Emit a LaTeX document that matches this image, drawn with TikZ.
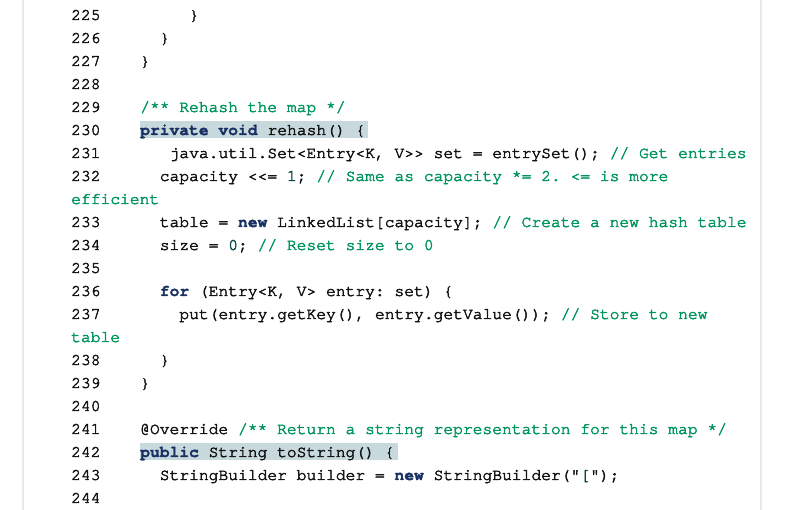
\documentclass[tikz,border=0pt]{standalone}
\usepackage{fontspec}
\setmonofont{TeX Gyre Cursor}[Ligatures=NoCommon,FakeBold=3,BoldFeatures={FakeBold=1.5}]
\definecolor{txt}{RGB}{20,20,20}
\definecolor{kwblue}{RGB}{24,48,98}
\definecolor{cmgreen}{RGB}{0,150,92}
\definecolor{numteal}{RGB}{8,72,72}
\definecolor{hlblue}{RGB}{199,217,221}
\definecolor{rule}{RGB}{232,232,232}
\newcommand{\kw}[1]{\textcolor{kwblue}{\textbf{#1}}}
\newcommand{\cm}[1]{\textcolor{cmgreen}{#1}}
\newcommand{\nm}[1]{\textcolor{numteal}{#1}}
\tikzset{
	code/.style={anchor=base west,inner sep=0pt,text=txt,font=\ttfamily\fontsize{16.3}{20}\selectfont},
	hl/.style={fill=hlblue},
	frame/.style={draw=rule,line width=1.6pt}
}
\begin{document}
\begin{tikzpicture}[x=1pt,y=-1pt]
	\useasboundingbox (0,0) rectangle (785,510);
	\fill[white] (0,0) rectangle (785,510);
	\draw[frame] (23,0) -- (23,510);
	\draw[frame] (761,0) -- (761,510);
	% highlighted signatures
	\fill[hl] (140,121) rectangle (368,138);
	\fill[hl] (140,443) rectangle (398,460);
	% line numbers
	\foreach \n in {225,...,244}{
		\pgfmathtruncatemacro\r{\n-225+(\n>232)+(\n>237)}
		\node[code] (ln\n) at (71,20+23*\r) {\n};
	}
	\node[code] (c225) at (189,20) {\}};
	\node[code] (c226) at (159.6,43) {\}};
	\node[code] (c227) at (140,66) {\}};
	\node[code] (c229) at (140,112) {\cm{/** Rehash the map */}};
	\node[code] (c230) at (140,135) {\kw{private} \kw{void} rehash() \{};
	\node[code] (c231) at (169.4,158) {java.util.Set<Entry<K, V>> set = entrySet(); \cm{// Get entries}};
	\node[code] (c232) at (159.6,181) {capacity <<= \nm{1}; \cm{// Same as capacity *= 2. <= is more}};
	\node[code] (w232) at (71,204) {\cm{efficient}};
	\node[code] (c233) at (159.6,227) {table = \kw{new} LinkedList[capacity]; \cm{// Create a new hash table}};
	\node[code] (c234) at (159.6,250) {size = \nm{0}; \cm{// Reset size to 0}};
	\node[code] (c236) at (159.6,296) {\kw{for} (Entry<K, V> entry: set) \{};
	\node[code] (c237) at (179.2,319) {put(entry.getKey(), entry.getValue()); \cm{// Store to new}};
	\node[code] (w237) at (71,342) {\cm{table}};
	\node[code] (c238) at (159.6,365) {\}};
	\node[code] (c239) at (140,388) {\}};
	\node[code] (c241) at (140,434) {@Override \cm{/** Return a string representation for this map */}};
	\node[code] (c242) at (140,457) {\kw{public} String toString() \{};
	\node[code] (c243) at (159.6,480) {StringBuilder builder = \kw{new} StringBuilder("\nm{[}");};
\end{tikzpicture}
\end{document}
